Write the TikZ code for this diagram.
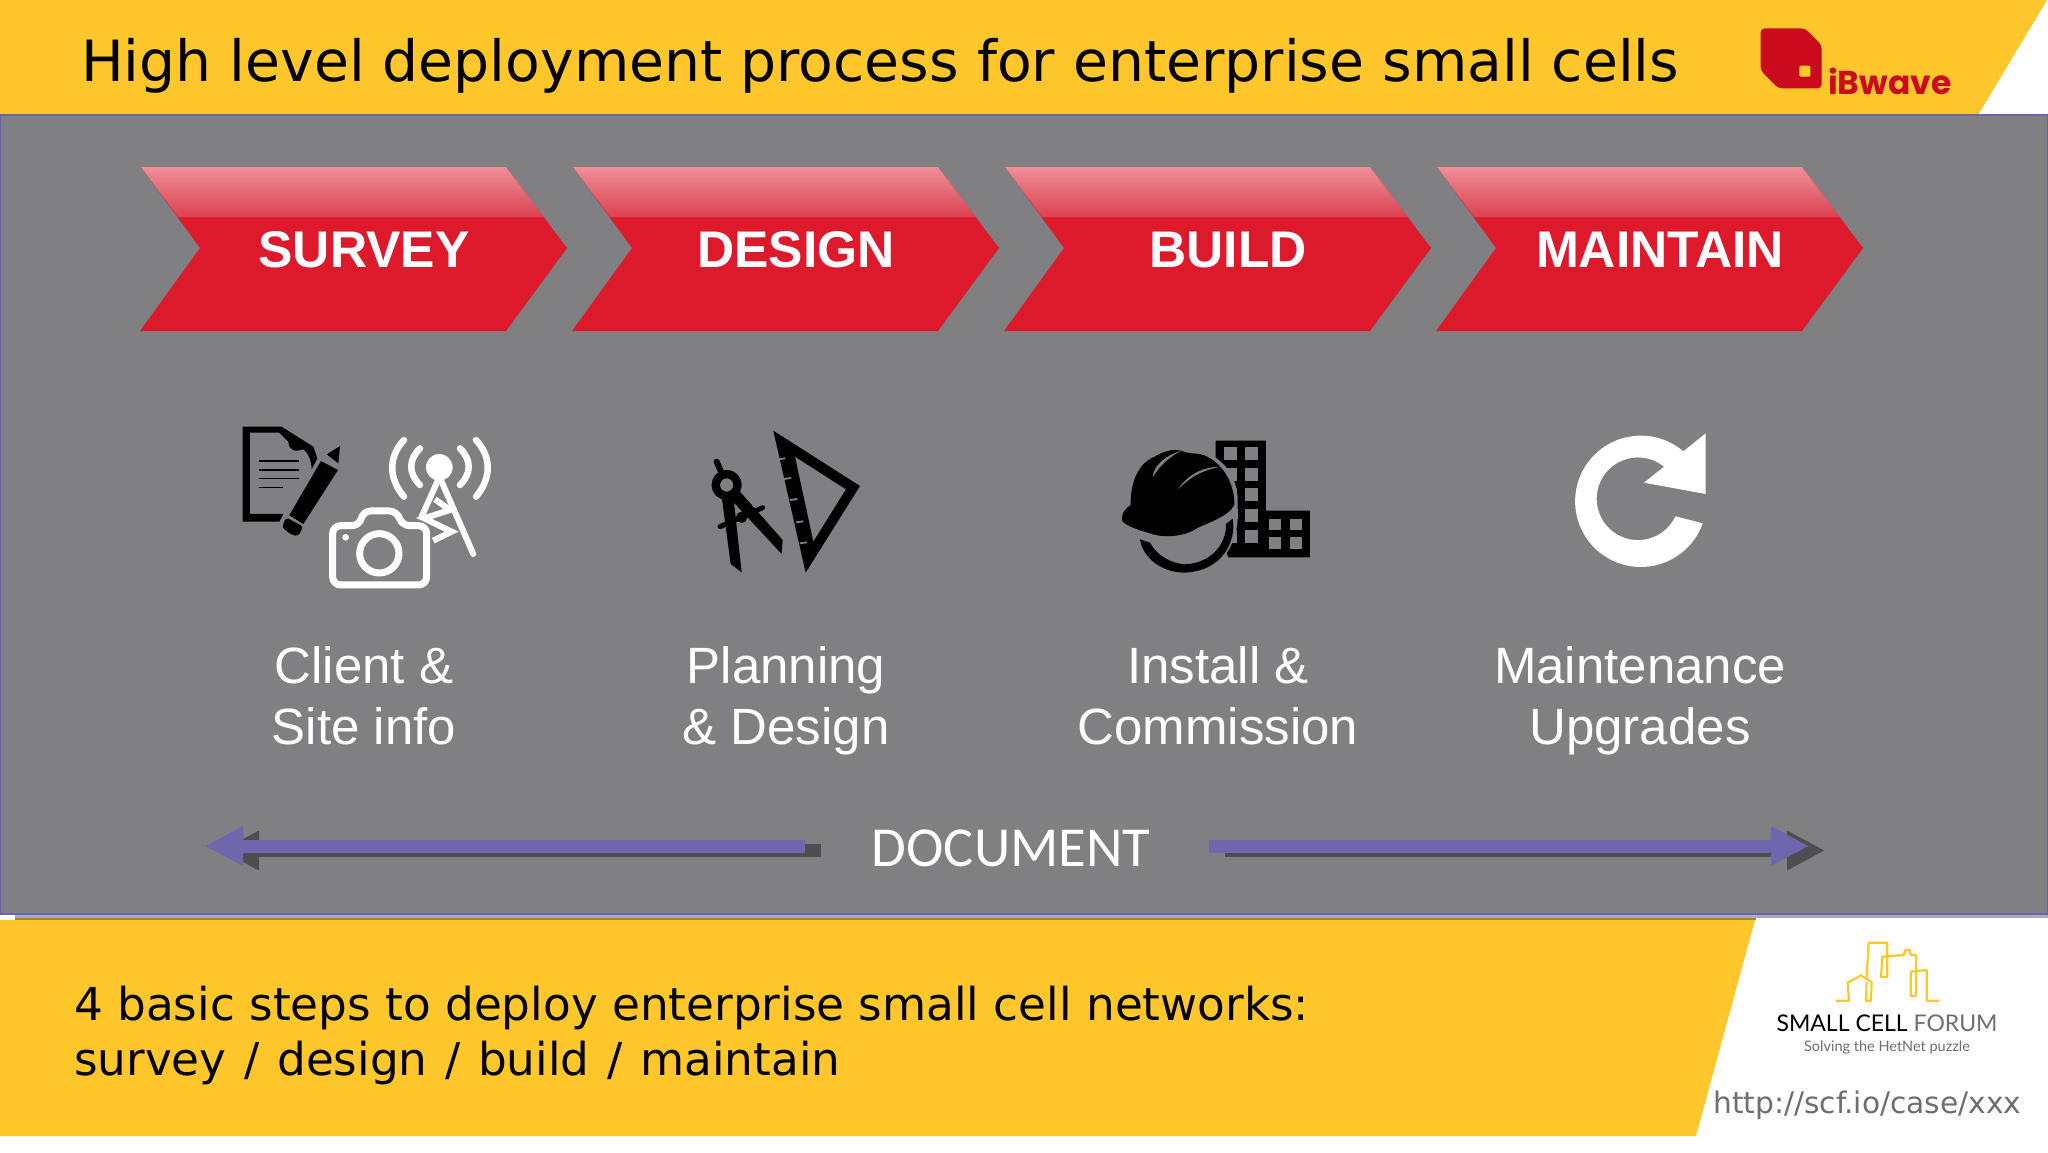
\documentclass[tikz,border=0pt]{standalone}
\usepackage{fontspec}
\usepackage{tikz}
\usetikzlibrary{arrows.meta}
\setmainfont{Liberation Sans}
\newfontfamily\slidefont{DejaVu Sans}
\newfontfamily\calibrifont{Carlito}
\newfontfamily\logofont{Poppins}
\newfontfamily\forumfont{Lato}
\definecolor{bandyellow}{HTML}{FFC72C}
\definecolor{bandedge}{HTML}{A8861F}
\definecolor{panelgray}{HTML}{807F82}
\definecolor{panelline}{HTML}{6A64A8}
\definecolor{panelstrip}{HTML}{ACAAC0}
\definecolor{chevronred}{HTML}{DD1A2C}
\definecolor{glosstop}{HTML}{EE8F97}
\definecolor{glossbottom}{HTML}{DC4150}
\definecolor{arrowblue}{HTML}{6F66AE}
\definecolor{arrowshadow}{HTML}{4E4E51}
\definecolor{logored}{HTML}{CC0A1E}
\definecolor{urlgray}{HTML}{6D6E71}
\tikzset{
  steplabel/.style={anchor=base,inner sep=0pt,text=white,font=\fontsize{51.5}{51.5}\selectfont\bfseries},
  infolabel/.style={anchor=south,inner sep=0pt,text depth=12pt,text=white,align=center,font=\fontsize{51}{61.5}\selectfont},
  docarrow/.style={arrowblue,line width=13pt,-{Triangle[length=38pt,width=37pt]}},
  docshadow/.style={arrowshadow,line width=13pt,-{Triangle[length=38pt,width=37pt]}},
  slidetext/.style={anchor=base west,inner sep=0pt,font=\fontsize{45.3}{45.3}\selectfont\slidefont},
}

\begin{document}
\begin{tikzpicture}[x=1pt,y=1pt,yscale=-1]
    \useasboundingbox (0,0) rectangle (2048,1152);
    \fill[white] (0,0) rectangle (2048,1152);
    \fill[bandyellow] (0,0) -- (2047,0) -- (1978,115) -- (0,115) -- cycle;
    \fill[panelgray] (0,115) rectangle (2048,914);
    \draw[panelline,line width=2pt] (0,115) rectangle (2048,914);
    \fill[panelstrip] (15,915) rectangle (2048,917.5);
    \fill[bandyellow] (0,920) -- (1755,920) -- (1696,1136) -- (0,1136) -- cycle;
    \fill[bandedge] (15,917.5) rectangle (1756,920);

    \node[anchor=base west,inner sep=0pt,font=\fontsize{56.8}{56.8}\selectfont\slidefont] (title) at (81,81) {High level deployment process for enterprise small cells};

    % chevrons
    \foreach \x/\name/\word in {0/survey/SURVEY,432/design/DESIGN,864/build/BUILD,1296/maintain/MAINTAIN}{
        \fill[chevronred] (141+\x,167) -- (506+\x,167) -- (567+\x,248) -- (506+\x,331) -- (140+\x,331) -- (200+\x,248) -- cycle;
        \shade[top color=glosstop,bottom color=glossbottom] (141+\x,167) -- (506+\x,167) -- (544+\x,217) -- (178+\x,217) -- cycle;
        \node[steplabel] (\name) at (364+\x,267) {\word};
    }

    \node[infolabel] (client) at (364,757) {Client \&\\Site info};
    \node[infolabel] (planning) at (786,757) {Planning\\\& Design};
    \node[infolabel] (install) at (1218,757) {Install \&\\Commission};
    \node[infolabel] (upgrades) at (1640,757) {Maintenance\\Upgrades};

    % document arrows
    \node[anchor=base,inner sep=0pt,text=white,font=\fontsize{56.5}{56.5}\selectfont\calibrifont] (document) at (1011,866) {DOCUMENT};
    \coordinate (leftstart) at (805,846);
    \coordinate (leftend) at (205,846);
    \coordinate (rightstart) at (1209,846);
    \coordinate (rightend) at (1809,846);
    \draw[docshadow] ([xshift=16pt,yshift=4.5pt]leftstart) -- ([xshift=16pt,yshift=4.5pt]leftend);
    \draw[docshadow] ([xshift=16pt,yshift=4.5pt]rightstart) -- ([xshift=16pt,yshift=4.5pt]rightend);
    \draw[docarrow] (leftstart) -- (leftend);
    \draw[docarrow] (rightstart) -- (rightend);

    % survey icons
    \begin{scope}[shift={(220,410)},scale=0.3333]
        \fill[black] (68,50) -- (185,50) -- (280,110) -- (292,145) -- (275,178) .. controls (275,150) and (262,125) .. (250,118) .. controls (225,125) and (208,125) .. (205,95) -- (178,68) -- (90,68) -- (90,312) -- (190,312) -- (178,335) -- (68,335) -- cycle;
        \foreach \y/\e in {153/238,180/238,206/238,233/188}{
            \draw[black,line width=1.6pt] (118,\y) -- (\e,\y);
        }
        \fill[black] (303,153) -- (354,180) -- (250,342) -- (208,316) -- cycle;
        \fill[black] (320,133) -- (360,108) -- (355,160) -- cycle;
        \fill[black,rounded corners=3pt] (198,322) -- (250,350) -- (235,378) -- (215,375) -- (186,352) -- cycle;
        \begin{scope}[white,line width=6.5pt,line cap=round]
            \draw (552,90) .. controls (505,140) and (505,205) .. (552,260);
            \draw (600,115) .. controls (565,150) and (565,190) .. (600,225);
            \draw (768,90) .. controls (815,140) and (815,205) .. (768,260);
            \draw (720,115) .. controls (755,150) and (755,190) .. (720,225);
            \draw[line width=6pt] (652,215) -- (605,320);
            \draw[line width=6pt] (665,215) -- (760,432);
            \draw[line width=6pt,line cap=butt] (645,268) -- (690,300) -- (612,325) -- (695,365) -- (640,392);
            \fill (658,172) circle (40);
            \draw[line width=7pt,rounded corners=8pt,line cap=butt] (338,347) -- (420,347) -- (428,303) -- (532,303) -- (545,347) -- (620,347) -- (620,525) -- (338,525) -- cycle;
            \draw[line width=7pt] (478,430) circle (59);
            \fill (377,382) circle (10);
        \end{scope}
    \end{scope}

    % design icons
    \begin{scope}[shift={(690,410)},scale=0.3333]
        \fill[black,even odd rule] (250,62) -- (510,228) -- (347,488) -- cycle (315,140) -- (468,238) -- (370,395) -- cycle;
        \foreach \a/\b in {268/148,286/207,304/270,322/337,333/400}{
            \draw[panelgray,line width=1.8pt] (\a-4,\b) -- (\a+18,\b-3);
        }
        \fill[black] (95,260) -- (130,260) -- (155,487) -- (122,462) -- cycle;
        \fill[black] (150,245) -- (278,390) -- (275,432) -- (115,260) -- cycle;
        \draw[black,line width=6pt,line cap=round] (80,155) -- (95,190);
        \draw[black,line width=5pt,line cap=round] (90,350) -- (218,293);
        \fill[black] (155,322) circle (17);
        \fill[black,even odd rule] (110,225) circle (45) (110,225) circle (20);
    \end{scope}

    % build icons
    \begin{scope}[shift={(1100,420)},scale=0.3333]
        \fill[black] (347,62) -- (498,62) -- (498,272) -- (630,272) -- (630,412) -- (385,412) -- (347,300) -- cycle;
        \foreach \a in {82,145,205,267,330}{
            \fill[panelgray] (372,\a) rectangle +(40,38);
            \fill[panelgray] (435,\a) rectangle +(40,38);
        }
        \foreach \a in {296,352}{
            \fill[panelgray] (507,\a) rectangle +(36,35);
            \fill[panelgray] (570,\a) rectangle +(36,35);
        }
        \fill[panelgray,draw=panelgray,line width=5pt] (300,100) .. controls (385,125) and (410,200) .. (405,255) .. controls (412,330) and (390,400) .. (320,450) -- (180,440) -- (100,320) -- cycle;
        \fill[black] (68,305) .. controls (60,285) and (75,265) .. (92,255) .. controls (90,190) and (115,130) .. (160,112) .. controls (190,95) and (215,85) .. (243,92) .. controls (260,100) and (280,100) .. (300,102) .. controls (365,120) and (405,190) .. (403,255) .. controls (385,290) and (320,310) .. (290,325) .. controls (255,350) and (190,355) .. (150,340) .. controls (115,330) and (85,320) .. (68,305) -- cycle;
        \fill[panelgray] (158,172) .. controls (160,135) and (200,105) .. (244,92) .. controls (210,110) and (180,135) .. (158,172) -- cycle;
        \fill[panelgray] (235,208) .. controls (260,165) and (310,140) .. (362,140) .. controls (310,150) and (270,170) .. (235,208) -- cycle;
        \fill[black] (120,358) -- (150,368) .. controls (170,405) and (210,430) .. (255,433) .. controls (330,430) and (380,375) .. (378,312) -- (398,296) .. controls (410,360) and (370,455) .. (250,458) .. controls (170,455) and (125,400) .. (120,358) -- cycle;
    \end{scope}

    % maintain icon
    \begin{scope}[shift={(1550,420)},scale=0.3333]
        \fill[white] (458,310) arc[start angle=19.6,end angle=310.4,radius=197] -- (467,40) -- (467,222) -- (282,188) -- (342,140) arc[start angle=309,end angle=25,radius=124] -- cycle;
    \end{scope}

    % bottom text
    \node[slidetext] (summary) at (74,1020) {4 basic steps to deploy enterprise small cell networks:};
    \node[slidetext] (steps) at (74,1075) {\spaceskip=17.7pt survey / design / build / maintain};

    % ibwave logo
    \begin{scope}[shift={(1700,0)},scale=0.3333]
        \fill[logored,rounded corners=4pt] (182,85) -- (315,85) -- (365,135) -- (365,265) -- (235,265) -- (182,212) -- cycle;
        \fill[bandyellow,rounded corners=1pt] (298,197) rectangle (331,230);
    \end{scope}
    \node[anchor=base west,inner sep=0pt,text=logored,font=\fontsize{33}{33}\selectfont\logofont\bfseries] (ibwave) at (1828,94) {iBwave};

    % forum logo
    \begin{scope}[shift={(1680,910)},scale=0.3333,bandyellow,line width=2.2pt,line join=round]
        \draw (467,272) -- (507,272) -- (503,218) -- (543,196) -- (575,216) -- (573,272) -- (558,272) -- (560,216);
        \draw (560,210) -- (566,98) -- (622,98) -- (622,200) -- (603,200) -- (607,140) -- (672,135) -- (675,120) -- (690,120) -- (692,135) -- (708,135) -- (708,258) -- (692,258) -- (692,185) -- (740,180) -- (740,272) -- (778,272);
    \end{scope}
    \node[inner sep=0pt,font=\fontsize{23}{23}\selectfont\forumfont] (forum) at (1887,1023) {SMALL CELL \textcolor{urlgray}{FORUM}};
    \node[inner sep=0pt,text=urlgray,font=\fontsize{14.5}{14.5}\selectfont\forumfont] (puzzle) at (1887,1047) {Solving the HetNet puzzle};
    \node[anchor=base west,inner sep=0pt,text=urlgray,font=\fontsize{29.7}{29.7}\selectfont\slidefont] (url) at (1713,1113) {http://scf.io/case/xxx};
\end{tikzpicture}
\end{document}
